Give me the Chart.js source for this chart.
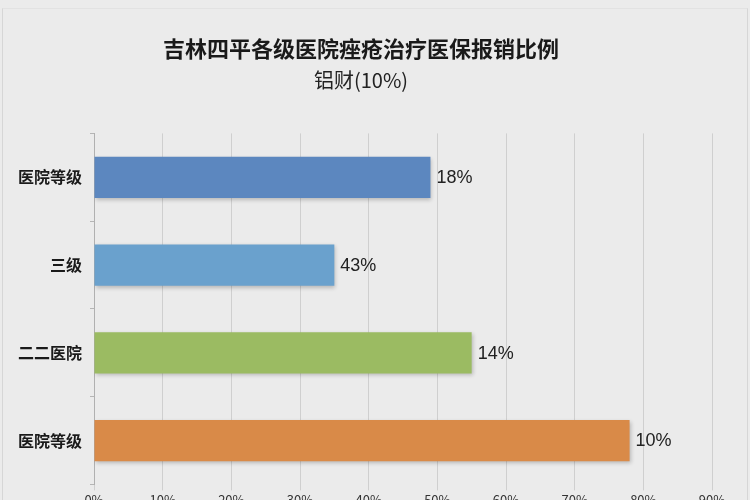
<!DOCTYPE html>
<html>
<head>
<meta charset="utf-8">
<script src="https://cdn.jsdelivr.net/npm/chart.js@4"></script>
<style>
  html, body { margin: 0; padding: 0; background: #ebebeb; overflow: hidden; }
  #wrap { position: absolute; left: 0; top: 0; width: 750px; height: 510px; }
  #frame { position: absolute; left: 2px; top: 8px; width: 744px; height: 500px; border-left: 1px solid #d6d6d6; border-right: 1px solid #d6d6d6; border-top: 1px solid #e2e2e2; pointer-events: none; }
</style>
</head>
<body>
<div id="wrap"><canvas id="c"></canvas></div>
<div id="frame"></div>
<script>
const titleText = '吉林四平各级医院痤疮治疗医保报销比例';
const subtitleText = '铝财(10%)';
const categories = ['医院等级', '三级', '二二医院', '医院等级'];
const values = [49, 35, 55, 78];
const valueLabels = ['18%', '43%', '14%', '10%'];
const barColors = ['#5c87bf', '#6aa1cd', '#9bbb62', '#d98a48'];
const tickValues = [0, 10, 20, 30, 40, 50, 60, 70, 80, 90];

const FONT = '"Noto Sans CJK SC", "Noto Sans", sans-serif';

const shadowPlugin = {
  id: 'barShadow',
  beforeDatasetsDraw(chart) {
    const ctx = chart.ctx;
    ctx.save();
    ctx.shadowColor = 'rgba(0,0,0,0.22)';
    ctx.shadowBlur = 4;
    ctx.shadowOffsetX = 1;
    ctx.shadowOffsetY = 2;
  },
  afterDatasetsDraw(chart) {
    chart.ctx.restore();
  }
};

const valueLabelPlugin = {
  id: 'valueLabels',
  afterDatasetsDraw(chart) {
    const ctx = chart.ctx;
    const meta = chart.getDatasetMeta(0);
    ctx.save();
    ctx.font = '18px "Liberation Sans", "DejaVu Sans", sans-serif';
    ctx.fillStyle = '#222';
    ctx.textAlign = 'left';
    ctx.textBaseline = 'middle';
    meta.data.forEach((bar, i) => {
      ctx.fillText(valueLabels[i], bar.x + 6, bar.y + 1);
    });
    ctx.restore();
  }
};

new Chart(document.getElementById('c'), {
  type: 'bar',
  data: {
    labels: categories,
    datasets: [{
      data: values,
      backgroundColor: barColors,
      borderWidth: 0,
      barPercentage: 0.94,
      categoryPercentage: 0.5
    }]
  },
  options: {
    indexAxis: 'y',
    responsive: true,
    maintainAspectRatio: false,
    animation: false,
    devicePixelRatio: 1,
    layout: { padding: { left: 10, right: 38, top: 0, bottom: 0 } },
    plugins: {
      legend: { display: false },
      tooltip: { enabled: false },
      title: {
        display: true,
        text: titleText,
        color: '#1a1a1a',
        font: { family: FONT, size: 22, weight: 'bold' },
        padding: { top: 35, bottom: 7 }
      },
      subtitle: {
        display: true,
        text: subtitleText,
        color: '#222',
        font: { family: FONT, size: 20 },
        padding: { top: 0, bottom: 41 }
      }
    },
    scales: {
      x: {
        min: 0,
        max: 90,
        afterBuildTicks(axis) { axis.ticks = tickValues.map(v => ({ value: v })); },
        ticks: {
          callback: v => v + '%',
          color: '#333',
          font: { family: FONT, size: 13 },
          padding: 2
        },
        grid: { color: '#cfcfcf', lineWidth: 1, drawTicks: true, tickLength: 6 },
        border: { display: false }
      },
      y: {
        ticks: {
          color: '#1a1a1a',
          font: { family: FONT, size: 16, weight: 'bold' },
          padding: 8
        },
        grid: { drawOnChartArea: false, drawTicks: true, tickLength: 4, color: '#b5b5b5' },
        border: { display: true, color: '#b0b0b0', width: 1 }
      }
    }
  },
  plugins: [shadowPlugin, valueLabelPlugin]
});
</script>
</body>
</html>
